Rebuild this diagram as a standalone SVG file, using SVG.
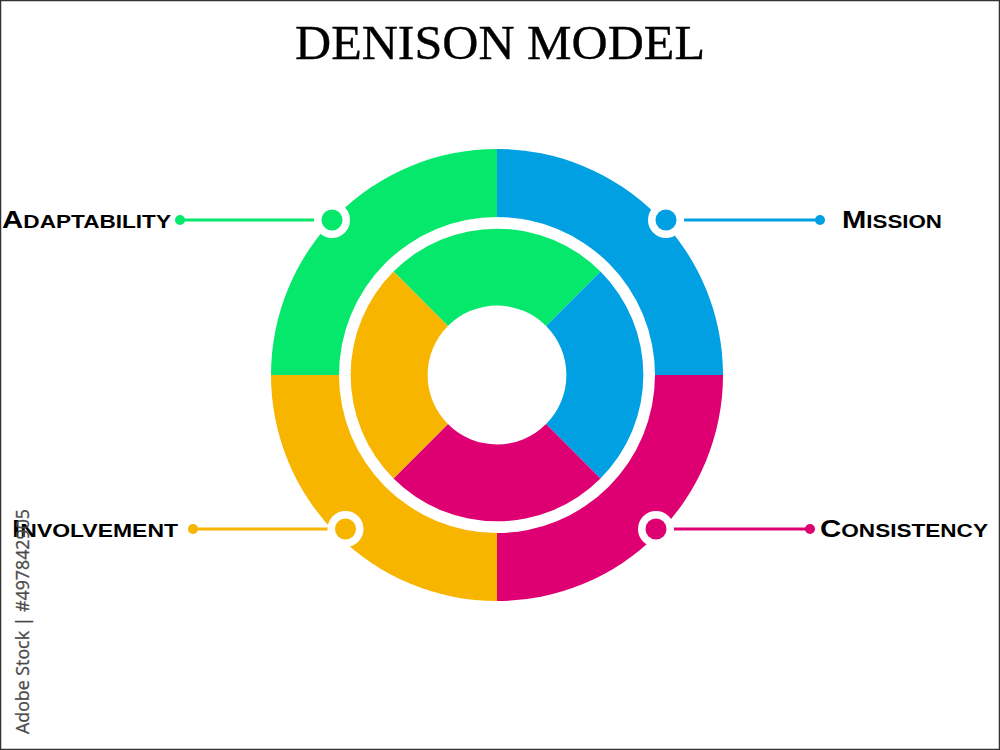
<svg xmlns="http://www.w3.org/2000/svg" width="1000" height="750" viewBox="0 0 1000 750">
  <style>
    .title{font-family:"Liberation Serif","Times New Roman",serif;font-size:49px;fill:#000;stroke:#000;stroke-width:.35}
    .label{font-family:"Liberation Sans",Arial,sans-serif;font-weight:700;font-size:18px;fill:#000}
    .cap{font-size:23.500px}
    .stock{font-family:"Open Sans","Noto Sans",sans-serif;font-size:19px;fill:#4a4a4a;stroke:#4a4a4a;stroke-width:.3}
    .green{fill:#05E86B}.blue{fill:#00A0E3}.pink{fill:#DE0073}.orange{fill:#F7B500}
    .lg{stroke:#05E86B}.lb{stroke:#00A0E3}.lp{stroke:#DE0073}.lo{stroke:#F7B500}
    #connectors line{stroke-width:3}
    .halo{fill:#fff}
  </style>
  <rect x="0" y="0" width="1000" height="750" fill="#fff"/>
  <rect x="0.5" y="0.5" width="999" height="749" fill="none" stroke="#333" stroke-width="1.5"/>
  <text class="title" x="295" y="58.500" textLength="410" lengthAdjust="spacingAndGlyphs">DENISON MODEL</text>

  <g id="wheel">
    <path class="green" d="M497 375V149A226 226 0 0 0 271 375Z"/>
    <path class="blue" d="M497 375V149A226 226 0 0 1 723 375Z"/>
    <path class="pink" d="M497 375H723A226 226 0 0 1 497 601Z"/>
    <path class="orange" d="M497 375V601A226 226 0 0 1 271 375Z"/>
    <circle cx="497" cy="375" r="158" fill="#fff"/>
    <path class="green" d="M393.500 271.500A146.400 146.400 0 0 1 600.500 271.500L546.100 325.900A69.500 69.500 0 0 0 447.900 325.900Z"/>
    <path class="blue" d="M600.500 271.500A146.400 146.400 0 0 1 600.500 478.500L546.100 424.100A69.500 69.500 0 0 0 546.100 325.900Z"/>
    <path class="pink" d="M600.500 478.500A146.400 146.400 0 0 1 393.500 478.500L447.900 424.100A69.500 69.500 0 0 0 546.100 424.100Z"/>
    <path class="orange" d="M393.500 478.500A146.400 146.400 0 0 1 393.500 271.500L447.900 325.900A69.500 69.500 0 0 0 447.900 424.100Z"/>
  </g>

  <g id="connectors">
    <line class="lg" x1="180" y1="220" x2="315" y2="220"/>
    <line class="lb" x1="684" y1="220" x2="820" y2="220"/>
    <line class="lo" x1="193" y1="529" x2="328" y2="529"/>
    <line class="lp" x1="673" y1="529" x2="810" y2="529"/>
  </g>

  <g id="node-adaptability">
    <circle class="halo" cx="332" cy="220" r="18"/>
    <circle class="green" cx="332" cy="220" r="10.500"/>
    <circle class="green" cx="180" cy="220" r="5"/>
    <text class="label" x="2" y="228" textLength="169" lengthAdjust="spacingAndGlyphs"><tspan class="cap">A</tspan>DAPTABILITY</text>
  </g>
  <g id="node-mission">
    <circle class="halo" cx="666" cy="220" r="18"/>
    <circle class="blue" cx="666" cy="220" r="10.500"/>
    <circle class="blue" cx="820" cy="220" r="5"/>
    <text class="label" x="842" y="228" textLength="100" lengthAdjust="spacingAndGlyphs"><tspan class="cap">M</tspan>ISSION</text>
  </g>
  <g id="node-involvement">
    <circle class="halo" cx="345.500" cy="529" r="18"/>
    <circle class="orange" cx="345.500" cy="529" r="10.500"/>
    <circle class="orange" cx="193" cy="529" r="5"/>
    <text class="label" x="12" y="537" textLength="166" lengthAdjust="spacingAndGlyphs"><tspan class="cap">I</tspan>NVOLVEMENT</text>
  </g>
  <g id="node-consistency">
    <circle class="halo" cx="656" cy="529" r="18"/>
    <circle class="pink" cx="656" cy="529" r="10.500"/>
    <circle class="pink" cx="810" cy="529" r="5"/>
    <text class="label" x="820" y="537" textLength="168" lengthAdjust="spacingAndGlyphs"><tspan class="cap">C</tspan>ONSISTENCY</text>
  </g>
  <text class="stock" transform="translate(29 734) rotate(-90)" textLength="225" lengthAdjust="spacingAndGlyphs">Adobe Stock | #497842905</text>
</svg>
